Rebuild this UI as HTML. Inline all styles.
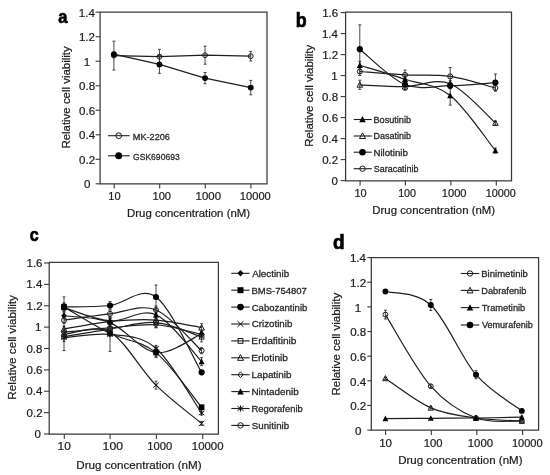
<!DOCTYPE html>
<html><head><meta charset="utf-8"><style>
html,body{margin:0;padding:0;background:#fff;width:550px;height:475px;overflow:hidden}
svg{display:block;will-change:transform}
text{font-family:"Liberation Sans",sans-serif}
.t{stroke:#1c1c1c;stroke-width:0.22px}
</style></head><body>
<svg width="550" height="475" viewBox="0 0 550 475">
<path d="M100.10 12.10 H267.00 V183.80 H100.10 Z" fill="none" stroke="#3a3a3a" stroke-width="1.25"/>
<line x1="95.60" y1="183.80" x2="100.10" y2="183.80" stroke="#3a3a3a" stroke-width="1.1"/>
<text x="83.88" y="188.16" font-size="11.60" textLength="6.45" lengthAdjust="spacingAndGlyphs" fill="#1c1c1c" class="t">0</text>
<line x1="95.60" y1="159.29" x2="100.10" y2="159.29" stroke="#3a3a3a" stroke-width="1.1"/>
<text x="79.10" y="163.65" font-size="11.60" textLength="16.13" lengthAdjust="spacingAndGlyphs" fill="#1c1c1c" class="t">0.2</text>
<line x1="95.60" y1="134.77" x2="100.10" y2="134.77" stroke="#3a3a3a" stroke-width="1.1"/>
<text x="78.98" y="139.13" font-size="11.60" textLength="16.13" lengthAdjust="spacingAndGlyphs" fill="#1c1c1c" class="t">0.4</text>
<line x1="95.60" y1="110.26" x2="100.10" y2="110.26" stroke="#3a3a3a" stroke-width="1.1"/>
<text x="79.07" y="114.62" font-size="11.60" textLength="16.13" lengthAdjust="spacingAndGlyphs" fill="#1c1c1c" class="t">0.6</text>
<line x1="95.60" y1="85.74" x2="100.10" y2="85.74" stroke="#3a3a3a" stroke-width="1.1"/>
<text x="79.04" y="90.10" font-size="11.60" textLength="16.13" lengthAdjust="spacingAndGlyphs" fill="#1c1c1c" class="t">0.8</text>
<line x1="95.60" y1="61.23" x2="100.10" y2="61.23" stroke="#3a3a3a" stroke-width="1.1"/>
<text x="83.74" y="65.53" font-size="11.60" textLength="6.45" lengthAdjust="spacingAndGlyphs" fill="#1c1c1c" class="t">1</text>
<line x1="95.60" y1="36.71" x2="100.10" y2="36.71" stroke="#3a3a3a" stroke-width="1.1"/>
<text x="78.89" y="41.07" font-size="11.60" textLength="16.13" lengthAdjust="spacingAndGlyphs" fill="#1c1c1c" class="t">1.2</text>
<line x1="95.60" y1="12.20" x2="100.10" y2="12.20" stroke="#3a3a3a" stroke-width="1.1"/>
<text x="78.78" y="16.50" font-size="11.60" textLength="16.13" lengthAdjust="spacingAndGlyphs" fill="#1c1c1c" class="t">1.4</text>
<line x1="114.20" y1="183.80" x2="114.20" y2="188.50" stroke="#3a3a3a" stroke-width="1.1"/>
<text x="108.27" y="200.10" font-size="11.60" textLength="12.30" lengthAdjust="spacingAndGlyphs" fill="#1c1c1c" class="t">10</text>
<line x1="159.70" y1="183.80" x2="159.70" y2="188.50" stroke="#3a3a3a" stroke-width="1.1"/>
<text x="152.47" y="200.10" font-size="11.60" textLength="18.52" lengthAdjust="spacingAndGlyphs" fill="#1c1c1c" class="t">100</text>
<line x1="205.30" y1="183.80" x2="205.30" y2="188.50" stroke="#3a3a3a" stroke-width="1.1"/>
<text x="195.59" y="200.10" font-size="11.60" textLength="25.41" lengthAdjust="spacingAndGlyphs" fill="#1c1c1c" class="t">1000</text>
<line x1="250.90" y1="183.80" x2="250.90" y2="188.50" stroke="#3a3a3a" stroke-width="1.1"/>
<text x="239.87" y="200.10" font-size="11.60" textLength="30.89" lengthAdjust="spacingAndGlyphs" fill="#1c1c1c" class="t">10000</text>
<text x="126.99" y="217.10" font-size="11.20" textLength="123.13" lengthAdjust="spacingAndGlyphs" fill="#1c1c1c" class="t">Drug concentration (nM)</text>
<text class="t" x="0" y="0" transform="translate(69.80 148.62) rotate(-90)" font-size="11.20" textLength="102.35" lengthAdjust="spacingAndGlyphs" fill="#1c1c1c">Relative cell viability</text>
<text x="58.36" y="23.05" font-size="18.80" font-weight="bold" textLength="9.15" lengthAdjust="spacingAndGlyphs" fill="#000" stroke="#000" stroke-width="0.70" stroke-linejoin="round">a</text>
<path d="M113.90 55.60 L159.45 56.70 L205.05 55.20 L250.75 56.20" fill="none" stroke="#1e1e1e" stroke-width="1.20"/>
<path d="M113.90 54.20 L159.45 64.40 L205.05 78.10 L250.75 87.60" fill="none" stroke="#1e1e1e" stroke-width="1.20"/>
<path d="M113.90 41.15 V70.05 M112.40 41.15 H115.40 M112.40 70.05 H115.40" stroke="#333" stroke-width="0.9" fill="none"/>
<path d="M159.45 49.30 V64.10 M157.95 49.30 H160.95 M157.95 64.10 H160.95" stroke="#333" stroke-width="0.9" fill="none"/>
<path d="M205.05 46.20 V64.20 M203.55 46.20 H206.55 M203.55 64.20 H206.55" stroke="#333" stroke-width="0.9" fill="none"/>
<path d="M250.75 51.40 V61.00 M249.25 51.40 H252.25 M249.25 61.00 H252.25" stroke="#333" stroke-width="0.9" fill="none"/>
<path d="M159.45 55.50 V73.30 M157.95 55.50 H160.95 M157.95 73.30 H160.95" stroke="#333" stroke-width="0.9" fill="none"/>
<path d="M205.05 72.50 V83.70 M203.55 72.50 H206.55 M203.55 83.70 H206.55" stroke="#333" stroke-width="0.9" fill="none"/>
<path d="M250.75 80.40 V94.80 M249.25 80.40 H252.25 M249.25 94.80 H252.25" stroke="#333" stroke-width="0.9" fill="none"/>
<circle cx="113.90" cy="55.60" r="2.43" fill="none" stroke="#1a1a1a" stroke-width="1.00"/>
<circle cx="159.45" cy="56.70" r="2.43" fill="none" stroke="#1a1a1a" stroke-width="1.00"/>
<circle cx="205.05" cy="55.20" r="2.43" fill="none" stroke="#1a1a1a" stroke-width="1.00"/>
<circle cx="250.75" cy="56.20" r="2.43" fill="none" stroke="#1a1a1a" stroke-width="1.00"/>
<circle cx="113.90" cy="54.20" r="2.97" fill="#000"/>
<circle cx="159.45" cy="64.40" r="2.97" fill="#000"/>
<circle cx="205.05" cy="78.10" r="2.97" fill="#000"/>
<circle cx="250.75" cy="87.60" r="2.97" fill="#000"/>
<line x1="108.10" y1="135.70" x2="129.70" y2="135.70" stroke="#1e1e1e" stroke-width="1.1"/>
<circle cx="118.70" cy="135.70" r="2.88" fill="none" stroke="#1a1a1a" stroke-width="1.00"/>
<text x="132.77" y="139.70" font-size="9.10" textLength="37.17" lengthAdjust="spacingAndGlyphs" fill="#2a2a2a" stroke="#2a2a2a" stroke-width="0.30">MK-2206</text>
<line x1="108.10" y1="155.80" x2="129.70" y2="155.80" stroke="#1e1e1e" stroke-width="1.1"/>
<circle cx="118.70" cy="155.80" r="3.52" fill="#000"/>
<text x="133.07" y="159.80" font-size="9.10" textLength="46.60" lengthAdjust="spacingAndGlyphs" fill="#2a2a2a" stroke="#2a2a2a" stroke-width="0.30">GSK690693</text>
<path d="M345.60 12.20 H511.50 V180.80 H345.60 Z" fill="none" stroke="#3a3a3a" stroke-width="1.25"/>
<line x1="340.70" y1="180.60" x2="345.60" y2="180.60" stroke="#3a3a3a" stroke-width="1.1"/>
<text x="331.38" y="184.62" font-size="11.50" textLength="6.40" lengthAdjust="spacingAndGlyphs" fill="#1c1c1c" class="t">0</text>
<line x1="340.70" y1="159.60" x2="345.60" y2="159.60" stroke="#3a3a3a" stroke-width="1.1"/>
<text x="322.19" y="163.62" font-size="11.50" textLength="15.99" lengthAdjust="spacingAndGlyphs" fill="#1c1c1c" class="t">0.2</text>
<line x1="340.70" y1="138.60" x2="345.60" y2="138.60" stroke="#3a3a3a" stroke-width="1.1"/>
<text x="321.96" y="142.62" font-size="11.50" textLength="15.99" lengthAdjust="spacingAndGlyphs" fill="#1c1c1c" class="t">0.4</text>
<line x1="340.70" y1="117.60" x2="345.60" y2="117.60" stroke="#3a3a3a" stroke-width="1.1"/>
<text x="322.13" y="121.62" font-size="11.50" textLength="15.99" lengthAdjust="spacingAndGlyphs" fill="#1c1c1c" class="t">0.6</text>
<line x1="340.70" y1="96.60" x2="345.60" y2="96.60" stroke="#3a3a3a" stroke-width="1.1"/>
<text x="322.08" y="100.62" font-size="11.50" textLength="15.99" lengthAdjust="spacingAndGlyphs" fill="#1c1c1c" class="t">0.8</text>
<line x1="340.70" y1="75.60" x2="345.60" y2="75.60" stroke="#3a3a3a" stroke-width="1.1"/>
<text x="331.19" y="79.57" font-size="11.50" textLength="6.40" lengthAdjust="spacingAndGlyphs" fill="#1c1c1c" class="t">1</text>
<line x1="340.70" y1="54.60" x2="345.60" y2="54.60" stroke="#3a3a3a" stroke-width="1.1"/>
<text x="322.19" y="58.62" font-size="11.50" textLength="15.99" lengthAdjust="spacingAndGlyphs" fill="#1c1c1c" class="t">1.2</text>
<line x1="340.70" y1="33.60" x2="345.60" y2="33.60" stroke="#3a3a3a" stroke-width="1.1"/>
<text x="321.96" y="37.57" font-size="11.50" textLength="15.99" lengthAdjust="spacingAndGlyphs" fill="#1c1c1c" class="t">1.4</text>
<line x1="340.70" y1="12.60" x2="345.60" y2="12.60" stroke="#3a3a3a" stroke-width="1.1"/>
<text x="322.13" y="16.62" font-size="11.50" textLength="15.99" lengthAdjust="spacingAndGlyphs" fill="#1c1c1c" class="t">1.6</text>
<line x1="360.10" y1="180.80" x2="360.10" y2="185.50" stroke="#3a3a3a" stroke-width="1.1"/>
<text x="354.48" y="197.10" font-size="11.50" textLength="12.19" lengthAdjust="spacingAndGlyphs" fill="#1c1c1c" class="t">10</text>
<line x1="405.40" y1="180.80" x2="405.40" y2="185.50" stroke="#3a3a3a" stroke-width="1.1"/>
<text x="398.14" y="197.10" font-size="11.50" textLength="17.98" lengthAdjust="spacingAndGlyphs" fill="#1c1c1c" class="t">100</text>
<line x1="450.90" y1="180.80" x2="450.90" y2="185.50" stroke="#3a3a3a" stroke-width="1.1"/>
<text x="441.81" y="197.10" font-size="11.50" textLength="24.78" lengthAdjust="spacingAndGlyphs" fill="#1c1c1c" class="t">1000</text>
<line x1="496.30" y1="180.80" x2="496.30" y2="185.50" stroke="#3a3a3a" stroke-width="1.1"/>
<text x="485.74" y="197.10" font-size="11.50" textLength="30.16" lengthAdjust="spacingAndGlyphs" fill="#1c1c1c" class="t">10000</text>
<text x="372.29" y="214.30" font-size="11.20" textLength="122.82" lengthAdjust="spacingAndGlyphs" fill="#1c1c1c" class="t">Drug concentration (nM)</text>
<text class="t" x="0" y="0" transform="translate(313.00 146.71) rotate(-90)" font-size="11.20" textLength="101.95" lengthAdjust="spacingAndGlyphs" fill="#1c1c1c">Relative cell viability</text>
<text x="295.79" y="26.65" font-size="19.30" font-weight="bold" textLength="10.89" lengthAdjust="spacingAndGlyphs" fill="#000" stroke="#000" stroke-width="0.70" stroke-linejoin="round">b</text>
<path d="M359.80 65.30 C367.33 67.63 389.93 74.27 405.00 79.30 C420.07 84.33 435.13 83.62 450.20 95.50 C465.27 107.38 487.87 141.42 495.40 150.60" fill="none" stroke="#1e1e1e" stroke-width="1.20"/>
<path d="M359.80 84.80 C367.33 85.12 389.93 86.88 405.00 86.70 C420.07 86.52 435.13 77.65 450.20 83.70 C465.27 89.75 487.87 116.45 495.40 123.00" fill="none" stroke="#1e1e1e" stroke-width="1.20"/>
<path d="M359.80 49.20 C367.33 55.08 389.93 78.42 405.00 84.50 C420.07 90.58 435.13 86.02 450.20 85.70 C465.27 85.38 487.87 83.12 495.40 82.60" fill="none" stroke="#1e1e1e" stroke-width="1.20"/>
<path d="M359.80 71.50 C367.33 72.07 389.93 74.08 405.00 74.90 C420.07 75.72 435.13 74.22 450.20 76.40 C465.27 78.58 487.87 86.07 495.40 88.00" fill="none" stroke="#1e1e1e" stroke-width="1.20"/>
<path d="M359.80 61.30 V69.30 M358.30 61.30 H361.30 M358.30 69.30 H361.30" stroke="#333" stroke-width="0.9" fill="none"/>
<path d="M405.00 76.30 V82.30 M403.50 76.30 H406.50 M403.50 82.30 H406.50" stroke="#333" stroke-width="0.9" fill="none"/>
<path d="M450.20 85.90 V105.10 M448.70 85.90 H451.70 M448.70 105.10 H451.70" stroke="#333" stroke-width="0.9" fill="none"/>
<path d="M495.40 148.10 V153.10 M493.90 148.10 H496.90 M493.90 153.10 H496.90" stroke="#333" stroke-width="0.9" fill="none"/>
<path d="M359.80 80.20 V89.40 M358.30 80.20 H361.30 M358.30 89.40 H361.30" stroke="#333" stroke-width="0.9" fill="none"/>
<path d="M405.00 83.30 V90.10 M403.50 83.30 H406.50 M403.50 90.10 H406.50" stroke="#333" stroke-width="0.9" fill="none"/>
<path d="M450.20 80.70 V86.70 M448.70 80.70 H451.70 M448.70 86.70 H451.70" stroke="#333" stroke-width="0.9" fill="none"/>
<path d="M495.40 121.00 V125.00 M493.90 121.00 H496.90 M493.90 125.00 H496.90" stroke="#333" stroke-width="0.9" fill="none"/>
<path d="M359.80 24.90 V73.50 M358.30 24.90 H361.30 M358.30 73.50 H361.30" stroke="#333" stroke-width="0.9" fill="none"/>
<path d="M405.00 79.00 V90.00 M403.50 79.00 H406.50 M403.50 90.00 H406.50" stroke="#333" stroke-width="0.9" fill="none"/>
<path d="M450.20 82.70 V88.70 M448.70 82.70 H451.70 M448.70 88.70 H451.70" stroke="#333" stroke-width="0.9" fill="none"/>
<path d="M495.40 74.00 V91.20 M493.90 74.00 H496.90 M493.90 91.20 H496.90" stroke="#333" stroke-width="0.9" fill="none"/>
<path d="M359.80 67.50 V75.50 M358.30 67.50 H361.30 M358.30 75.50 H361.30" stroke="#333" stroke-width="0.9" fill="none"/>
<path d="M405.00 70.00 V79.80 M403.50 70.00 H406.50 M403.50 79.80 H406.50" stroke="#333" stroke-width="0.9" fill="none"/>
<path d="M450.20 67.50 V85.30 M448.70 67.50 H451.70 M448.70 85.30 H451.70" stroke="#333" stroke-width="0.9" fill="none"/>
<path d="M495.40 85.50 V90.50 M493.90 85.50 H496.90 M493.90 90.50 H496.90" stroke="#333" stroke-width="0.9" fill="none"/>
<path d="M359.80 62.08 L362.82 67.96 L356.78 67.96 Z" fill="#000"/>
<path d="M405.00 76.08 L408.02 81.96 L401.98 81.96 Z" fill="#000"/>
<path d="M450.20 92.28 L453.22 98.16 L447.18 98.16 Z" fill="#000"/>
<path d="M495.40 147.38 L498.42 153.26 L492.38 153.26 Z" fill="#000"/>
<path d="M359.80 81.86 L362.60 87.18 L357.00 87.18 Z" fill="none" stroke="#1a1a1a" stroke-width="1.00"/>
<path d="M405.00 83.76 L407.80 89.08 L402.20 89.08 Z" fill="none" stroke="#1a1a1a" stroke-width="1.00"/>
<path d="M450.20 80.76 L453.00 86.08 L447.40 86.08 Z" fill="none" stroke="#1a1a1a" stroke-width="1.00"/>
<path d="M495.40 120.06 L498.20 125.38 L492.60 125.38 Z" fill="none" stroke="#1a1a1a" stroke-width="1.00"/>
<circle cx="359.80" cy="49.20" r="3.08" fill="#000"/>
<circle cx="405.00" cy="84.50" r="3.08" fill="#000"/>
<circle cx="450.20" cy="85.70" r="3.08" fill="#000"/>
<circle cx="495.40" cy="82.60" r="3.08" fill="#000"/>
<circle cx="359.80" cy="71.50" r="2.52" fill="none" stroke="#1a1a1a" stroke-width="1.00"/>
<circle cx="405.00" cy="74.90" r="2.52" fill="none" stroke="#1a1a1a" stroke-width="1.00"/>
<circle cx="450.20" cy="76.40" r="2.52" fill="none" stroke="#1a1a1a" stroke-width="1.00"/>
<circle cx="495.40" cy="88.00" r="2.52" fill="none" stroke="#1a1a1a" stroke-width="1.00"/>
<line x1="353.70" y1="119.50" x2="371.80" y2="119.50" stroke="#1e1e1e" stroke-width="1.1"/>
<path d="M362.50 116.05 L365.74 122.35 L359.26 122.35 Z" fill="#000"/>
<text x="373.47" y="122.90" font-size="9.10" textLength="37.59" lengthAdjust="spacingAndGlyphs" fill="#2a2a2a" stroke="#2a2a2a" stroke-width="0.30">Bosutinib</text>
<line x1="353.70" y1="136.00" x2="371.80" y2="136.00" stroke="#1e1e1e" stroke-width="1.1"/>
<path d="M362.50 132.85 L365.50 138.55 L359.50 138.55 Z" fill="none" stroke="#1a1a1a" stroke-width="1.00"/>
<text x="373.48" y="139.40" font-size="9.10" textLength="37.57" lengthAdjust="spacingAndGlyphs" fill="#2a2a2a" stroke="#2a2a2a" stroke-width="0.30">Dasatinib</text>
<line x1="353.70" y1="152.20" x2="371.80" y2="152.20" stroke="#1e1e1e" stroke-width="1.1"/>
<circle cx="362.50" cy="152.20" r="3.30" fill="#000"/>
<text x="373.42" y="155.60" font-size="9.10" textLength="34.49" lengthAdjust="spacingAndGlyphs" fill="#2a2a2a" stroke="#2a2a2a" stroke-width="0.30">Nilotinib</text>
<line x1="353.70" y1="168.70" x2="371.80" y2="168.70" stroke="#1e1e1e" stroke-width="1.1"/>
<circle cx="362.50" cy="168.70" r="2.70" fill="none" stroke="#1a1a1a" stroke-width="1.00"/>
<text x="373.80" y="172.10" font-size="9.10" textLength="44.69" lengthAdjust="spacingAndGlyphs" fill="#2a2a2a" stroke="#2a2a2a" stroke-width="0.30">Saracatinib</text>
<path d="M49.20 262.40 H218.40 V434.00 H49.20 Z" fill="none" stroke="#3a3a3a" stroke-width="1.25"/>
<line x1="44.00" y1="434.00" x2="49.20" y2="434.00" stroke="#3a3a3a" stroke-width="1.1"/>
<text x="34.38" y="438.02" font-size="11.50" textLength="6.40" lengthAdjust="spacingAndGlyphs" fill="#1c1c1c" class="t">0</text>
<line x1="44.00" y1="412.62" x2="49.20" y2="412.62" stroke="#3a3a3a" stroke-width="1.1"/>
<text x="26.59" y="416.65" font-size="11.50" textLength="15.99" lengthAdjust="spacingAndGlyphs" fill="#1c1c1c" class="t">0.2</text>
<line x1="44.00" y1="391.25" x2="49.20" y2="391.25" stroke="#3a3a3a" stroke-width="1.1"/>
<text x="26.36" y="395.27" font-size="11.50" textLength="15.99" lengthAdjust="spacingAndGlyphs" fill="#1c1c1c" class="t">0.4</text>
<line x1="44.00" y1="369.88" x2="49.20" y2="369.88" stroke="#3a3a3a" stroke-width="1.1"/>
<text x="26.53" y="373.90" font-size="11.50" textLength="15.99" lengthAdjust="spacingAndGlyphs" fill="#1c1c1c" class="t">0.6</text>
<line x1="44.00" y1="348.50" x2="49.20" y2="348.50" stroke="#3a3a3a" stroke-width="1.1"/>
<text x="26.47" y="352.52" font-size="11.50" textLength="15.99" lengthAdjust="spacingAndGlyphs" fill="#1c1c1c" class="t">0.8</text>
<line x1="44.00" y1="327.12" x2="49.20" y2="327.12" stroke="#3a3a3a" stroke-width="1.1"/>
<text x="34.99" y="331.09" font-size="11.50" textLength="6.40" lengthAdjust="spacingAndGlyphs" fill="#1c1c1c" class="t">1</text>
<line x1="44.00" y1="305.75" x2="49.20" y2="305.75" stroke="#3a3a3a" stroke-width="1.1"/>
<text x="26.59" y="309.77" font-size="11.50" textLength="15.99" lengthAdjust="spacingAndGlyphs" fill="#1c1c1c" class="t">1.2</text>
<line x1="44.00" y1="284.38" x2="49.20" y2="284.38" stroke="#3a3a3a" stroke-width="1.1"/>
<text x="26.36" y="288.34" font-size="11.50" textLength="15.99" lengthAdjust="spacingAndGlyphs" fill="#1c1c1c" class="t">1.4</text>
<line x1="44.00" y1="263.00" x2="49.20" y2="263.00" stroke="#3a3a3a" stroke-width="1.1"/>
<text x="26.53" y="267.02" font-size="11.50" textLength="15.99" lengthAdjust="spacingAndGlyphs" fill="#1c1c1c" class="t">1.6</text>
<line x1="64.30" y1="434.00" x2="64.30" y2="439.00" stroke="#3a3a3a" stroke-width="1.1"/>
<text x="57.50" y="450.40" font-size="11.50" textLength="13.30" lengthAdjust="spacingAndGlyphs" fill="#1c1c1c" class="t">10</text>
<line x1="110.10" y1="434.00" x2="110.10" y2="439.00" stroke="#3a3a3a" stroke-width="1.1"/>
<text x="102.64" y="450.40" font-size="11.50" textLength="20.35" lengthAdjust="spacingAndGlyphs" fill="#1c1c1c" class="t">100</text>
<line x1="156.40" y1="434.00" x2="156.40" y2="439.00" stroke="#3a3a3a" stroke-width="1.1"/>
<text x="147.31" y="450.40" font-size="11.50" textLength="24.99" lengthAdjust="spacingAndGlyphs" fill="#1c1c1c" class="t">1000</text>
<line x1="202.70" y1="434.00" x2="202.70" y2="439.00" stroke="#3a3a3a" stroke-width="1.1"/>
<text x="191.84" y="450.40" font-size="11.50" textLength="31.72" lengthAdjust="spacingAndGlyphs" fill="#1c1c1c" class="t">10000</text>
<text x="76.37" y="468.50" font-size="11.40" textLength="125.26" lengthAdjust="spacingAndGlyphs" fill="#1c1c1c" class="t">Drug concentration (nM)</text>
<text class="t" x="0" y="0" transform="translate(16.20 399.63) rotate(-90)" font-size="11.40" textLength="104.57" lengthAdjust="spacingAndGlyphs" fill="#1c1c1c">Relative cell viability</text>
<text x="29.71" y="240.85" font-size="18.60" font-weight="bold" textLength="8.94" lengthAdjust="spacingAndGlyphs" fill="#000" stroke="#000" stroke-width="0.70" stroke-linejoin="round">c</text>
<path d="M64.00 315.76 C71.67 316.90 94.67 316.48 110.00 322.62 C125.33 328.76 140.73 350.75 156.00 352.60 C171.27 354.46 194.00 336.90 201.60 333.75" fill="none" stroke="#1e1e1e" stroke-width="1.20"/>
<path d="M64.00 306.87 C71.67 311.28 94.67 325.70 110.00 333.33 C125.33 340.95 140.73 340.29 156.00 352.60 C171.27 364.92 194.00 398.12 201.60 407.23" fill="none" stroke="#1e1e1e" stroke-width="1.20"/>
<path d="M64.00 306.87 C71.67 306.64 94.67 307.12 110.00 305.48 C125.33 303.84 140.73 285.88 156.00 297.02 C171.27 308.16 194.00 359.76 201.60 372.31" fill="none" stroke="#1e1e1e" stroke-width="1.20"/>
<path d="M64.00 334.40 C71.67 334.04 94.67 323.79 110.00 332.25 C125.33 340.72 140.73 369.97 156.00 385.16 C171.27 400.35 194.00 417.02 201.60 423.40" fill="none" stroke="#1e1e1e" stroke-width="1.20"/>
<path d="M64.00 336.54 C71.67 335.29 94.67 331.36 110.00 329.04 C125.33 326.72 140.73 321.31 156.00 322.62 C171.27 323.92 194.00 334.49 201.60 336.86" fill="none" stroke="#1e1e1e" stroke-width="1.20"/>
<path d="M64.00 329.04 C71.67 327.79 94.67 323.04 110.00 321.55 C125.33 320.05 140.73 319.03 156.00 320.05 C171.27 321.06 194.00 326.38 201.60 327.65" fill="none" stroke="#1e1e1e" stroke-width="1.20"/>
<path d="M64.00 332.25 C71.67 331.54 94.67 329.22 110.00 327.97 C125.33 326.72 140.73 323.69 156.00 324.76 C171.27 325.83 194.00 332.79 201.60 334.40" fill="none" stroke="#1e1e1e" stroke-width="1.20"/>
<path d="M64.00 307.62 C71.67 309.84 94.67 319.71 110.00 320.90 C125.33 322.10 140.73 308.01 156.00 314.80 C171.27 321.58 194.00 353.80 201.60 361.60" fill="none" stroke="#1e1e1e" stroke-width="1.20"/>
<path d="M64.00 337.61 C71.67 337.07 94.67 332.61 110.00 334.40 C125.33 336.18 140.73 335.22 156.00 348.32 C171.27 361.42 194.00 402.23 201.60 413.01" fill="none" stroke="#1e1e1e" stroke-width="1.20"/>
<path d="M64.00 320.15 C71.67 319.10 94.67 315.53 110.00 313.83 C125.33 312.14 140.73 303.84 156.00 309.98 C171.27 316.12 194.00 343.89 201.60 350.68" fill="none" stroke="#1e1e1e" stroke-width="1.20"/>
<path d="M64.00 312.76 V318.76 M62.50 312.76 H65.50 M62.50 318.76 H65.50" stroke="#333" stroke-width="0.9" fill="none"/>
<path d="M110.00 319.62 V325.62 M108.50 319.62 H111.50 M108.50 325.62 H111.50" stroke="#333" stroke-width="0.9" fill="none"/>
<path d="M156.00 348.60 V356.60 M154.50 348.60 H157.50 M154.50 356.60 H157.50" stroke="#333" stroke-width="0.9" fill="none"/>
<path d="M201.60 330.75 V336.75 M200.10 330.75 H203.10 M200.10 336.75 H203.10" stroke="#333" stroke-width="0.9" fill="none"/>
<path d="M64.00 302.87 V310.87 M62.50 302.87 H65.50 M62.50 310.87 H65.50" stroke="#333" stroke-width="0.9" fill="none"/>
<path d="M110.00 330.33 V336.33 M108.50 330.33 H111.50 M108.50 336.33 H111.50" stroke="#333" stroke-width="0.9" fill="none"/>
<path d="M156.00 347.60 V357.60 M154.50 347.60 H157.50 M154.50 357.60 H157.50" stroke="#333" stroke-width="0.9" fill="none"/>
<path d="M201.60 405.23 V409.23 M200.10 405.23 H203.10 M200.10 409.23 H203.10" stroke="#333" stroke-width="0.9" fill="none"/>
<path d="M64.00 296.87 V316.87 M62.50 296.87 H65.50 M62.50 316.87 H65.50" stroke="#333" stroke-width="0.9" fill="none"/>
<path d="M110.00 301.48 V309.48 M108.50 301.48 H111.50 M108.50 309.48 H111.50" stroke="#333" stroke-width="0.9" fill="none"/>
<path d="M156.00 285.02 V309.02 M154.50 285.02 H157.50 M154.50 309.02 H157.50" stroke="#333" stroke-width="0.9" fill="none"/>
<path d="M201.60 370.31 V374.31 M200.10 370.31 H203.10 M200.10 374.31 H203.10" stroke="#333" stroke-width="0.9" fill="none"/>
<path d="M64.00 331.40 V337.40 M62.50 331.40 H65.50 M62.50 337.40 H65.50" stroke="#333" stroke-width="0.9" fill="none"/>
<path d="M110.00 329.25 V335.25 M108.50 329.25 H111.50 M108.50 335.25 H111.50" stroke="#333" stroke-width="0.9" fill="none"/>
<path d="M156.00 381.16 V389.16 M154.50 381.16 H157.50 M154.50 389.16 H157.50" stroke="#333" stroke-width="0.9" fill="none"/>
<path d="M201.60 421.40 V425.40 M200.10 421.40 H203.10 M200.10 425.40 H203.10" stroke="#333" stroke-width="0.9" fill="none"/>
<path d="M64.00 322.54 V350.54 M62.50 322.54 H65.50 M62.50 350.54 H65.50" stroke="#333" stroke-width="0.9" fill="none"/>
<path d="M110.00 325.04 V333.04 M108.50 325.04 H111.50 M108.50 333.04 H111.50" stroke="#333" stroke-width="0.9" fill="none"/>
<path d="M156.00 317.62 V327.62 M154.50 317.62 H157.50 M154.50 327.62 H157.50" stroke="#333" stroke-width="0.9" fill="none"/>
<path d="M201.60 331.86 V341.86 M200.10 331.86 H203.10 M200.10 341.86 H203.10" stroke="#333" stroke-width="0.9" fill="none"/>
<path d="M64.00 326.04 V332.04 M62.50 326.04 H65.50 M62.50 332.04 H65.50" stroke="#333" stroke-width="0.9" fill="none"/>
<path d="M110.00 318.55 V324.55 M108.50 318.55 H111.50 M108.50 324.55 H111.50" stroke="#333" stroke-width="0.9" fill="none"/>
<path d="M156.00 316.05 V324.05 M154.50 316.05 H157.50 M154.50 324.05 H157.50" stroke="#333" stroke-width="0.9" fill="none"/>
<path d="M201.60 323.65 V331.65 M200.10 323.65 H203.10 M200.10 331.65 H203.10" stroke="#333" stroke-width="0.9" fill="none"/>
<path d="M64.00 329.25 V335.25 M62.50 329.25 H65.50 M62.50 335.25 H65.50" stroke="#333" stroke-width="0.9" fill="none"/>
<path d="M110.00 324.97 V330.97 M108.50 324.97 H111.50 M108.50 330.97 H111.50" stroke="#333" stroke-width="0.9" fill="none"/>
<path d="M156.00 321.76 V327.76 M154.50 321.76 H157.50 M154.50 327.76 H157.50" stroke="#333" stroke-width="0.9" fill="none"/>
<path d="M201.60 331.40 V337.40 M200.10 331.40 H203.10 M200.10 337.40 H203.10" stroke="#333" stroke-width="0.9" fill="none"/>
<path d="M64.00 303.62 V311.62 M62.50 303.62 H65.50 M62.50 311.62 H65.50" stroke="#333" stroke-width="0.9" fill="none"/>
<path d="M110.00 317.90 V323.90 M108.50 317.90 H111.50 M108.50 323.90 H111.50" stroke="#333" stroke-width="0.9" fill="none"/>
<path d="M156.00 310.80 V318.80 M154.50 310.80 H157.50 M154.50 318.80 H157.50" stroke="#333" stroke-width="0.9" fill="none"/>
<path d="M201.60 357.60 V365.60 M200.10 357.60 H203.10 M200.10 365.60 H203.10" stroke="#333" stroke-width="0.9" fill="none"/>
<path d="M64.00 333.61 V341.61 M62.50 333.61 H65.50 M62.50 341.61 H65.50" stroke="#333" stroke-width="0.9" fill="none"/>
<path d="M110.00 317.40 V351.40 M108.50 317.40 H111.50 M108.50 351.40 H111.50" stroke="#333" stroke-width="0.9" fill="none"/>
<path d="M156.00 345.32 V351.32 M154.50 345.32 H157.50 M154.50 351.32 H157.50" stroke="#333" stroke-width="0.9" fill="none"/>
<path d="M201.60 411.01 V415.01 M200.10 411.01 H203.10 M200.10 415.01 H203.10" stroke="#333" stroke-width="0.9" fill="none"/>
<path d="M64.00 317.15 V323.15 M62.50 317.15 H65.50 M62.50 323.15 H65.50" stroke="#333" stroke-width="0.9" fill="none"/>
<path d="M110.00 310.83 V316.83 M108.50 310.83 H111.50 M108.50 316.83 H111.50" stroke="#333" stroke-width="0.9" fill="none"/>
<path d="M156.00 305.98 V313.98 M154.50 305.98 H157.50 M154.50 313.98 H157.50" stroke="#333" stroke-width="0.9" fill="none"/>
<path d="M201.60 347.68 V353.68 M200.10 347.68 H203.10 M200.10 353.68 H203.10" stroke="#333" stroke-width="0.9" fill="none"/>
<path d="M64.00 312.68 L66.80 315.76 L64.00 318.84 L61.20 315.76 Z" fill="#000"/>
<path d="M110.00 319.54 L112.80 322.62 L110.00 325.70 L107.20 322.62 Z" fill="#000"/>
<path d="M156.00 349.52 L158.80 352.60 L156.00 355.68 L153.20 352.60 Z" fill="#000"/>
<path d="M201.60 330.67 L204.40 333.75 L201.60 336.83 L198.80 333.75 Z" fill="#000"/>
<rect x="61.20" y="304.07" width="5.60" height="5.60" fill="#000"/>
<rect x="107.20" y="330.53" width="5.60" height="5.60" fill="#000"/>
<rect x="153.20" y="349.80" width="5.60" height="5.60" fill="#000"/>
<rect x="198.80" y="404.43" width="5.60" height="5.60" fill="#000"/>
<circle cx="64.00" cy="306.87" r="3.08" fill="#000"/>
<circle cx="110.00" cy="305.48" r="3.08" fill="#000"/>
<circle cx="156.00" cy="297.02" r="3.08" fill="#000"/>
<circle cx="201.60" cy="372.31" r="3.08" fill="#000"/>
<path d="M61.20 331.74 L66.80 337.06 M61.20 337.06 L66.80 331.74" stroke="#111" stroke-width="1"/>
<path d="M107.20 329.59 L112.80 334.92 M107.20 334.92 L112.80 329.59" stroke="#111" stroke-width="1"/>
<path d="M153.20 382.50 L158.80 387.82 M153.20 387.82 L158.80 382.50" stroke="#111" stroke-width="1"/>
<path d="M198.80 420.74 L204.40 426.06 M198.80 426.06 L204.40 420.74" stroke="#111" stroke-width="1"/>
<rect x="61.76" y="334.30" width="4.48" height="4.48" fill="none" stroke="#1a1a1a" stroke-width="1.00"/>
<rect x="107.76" y="326.80" width="4.48" height="4.48" fill="none" stroke="#1a1a1a" stroke-width="1.00"/>
<rect x="153.76" y="320.38" width="4.48" height="4.48" fill="none" stroke="#1a1a1a" stroke-width="1.00"/>
<rect x="199.36" y="334.62" width="4.48" height="4.48" fill="none" stroke="#1a1a1a" stroke-width="1.00"/>
<path d="M64.00 326.10 L66.80 331.42 L61.20 331.42 Z" fill="none" stroke="#1a1a1a" stroke-width="1.00"/>
<path d="M110.00 318.61 L112.80 323.93 L107.20 323.93 Z" fill="none" stroke="#1a1a1a" stroke-width="1.00"/>
<path d="M156.00 317.11 L158.80 322.43 L153.20 322.43 Z" fill="none" stroke="#1a1a1a" stroke-width="1.00"/>
<path d="M201.60 324.71 L204.40 330.03 L198.80 330.03 Z" fill="none" stroke="#1a1a1a" stroke-width="1.00"/>
<path d="M64.00 329.59 L66.52 332.25 L64.00 334.92 L61.48 332.25 Z" fill="none" stroke="#1a1a1a" stroke-width="1.00"/>
<path d="M110.00 325.31 L112.52 327.97 L110.00 330.63 L107.48 327.97 Z" fill="none" stroke="#1a1a1a" stroke-width="1.00"/>
<path d="M156.00 322.10 L158.52 324.76 L156.00 327.42 L153.48 324.76 Z" fill="none" stroke="#1a1a1a" stroke-width="1.00"/>
<path d="M201.60 331.74 L204.12 334.40 L201.60 337.06 L199.08 334.40 Z" fill="none" stroke="#1a1a1a" stroke-width="1.00"/>
<path d="M64.00 304.40 L67.02 310.28 L60.98 310.28 Z" fill="#000"/>
<path d="M110.00 317.68 L113.02 323.56 L106.98 323.56 Z" fill="#000"/>
<path d="M156.00 311.58 L159.02 317.46 L152.98 317.46 Z" fill="#000"/>
<path d="M201.60 358.38 L204.62 364.26 L198.58 364.26 Z" fill="#000"/>
<path d="M61.20 335.51 L66.80 339.71 M61.20 339.71 L66.80 335.51 M64.00 334.81 L64.00 340.41" stroke="#111" stroke-width="1"/>
<path d="M107.20 332.30 L112.80 336.50 M107.20 336.50 L112.80 332.30 M110.00 331.60 L110.00 337.20" stroke="#111" stroke-width="1"/>
<path d="M153.20 346.22 L158.80 350.42 M153.20 350.42 L158.80 346.22 M156.00 345.52 L156.00 351.12" stroke="#111" stroke-width="1"/>
<path d="M198.80 410.91 L204.40 415.11 M198.80 415.11 L204.40 410.91 M201.60 410.21 L201.60 415.81" stroke="#111" stroke-width="1"/>
<circle cx="64.00" cy="320.15" r="2.52" fill="none" stroke="#1a1a1a" stroke-width="1.00"/>
<circle cx="110.00" cy="313.83" r="2.52" fill="none" stroke="#1a1a1a" stroke-width="1.00"/>
<circle cx="156.00" cy="309.98" r="2.52" fill="none" stroke="#1a1a1a" stroke-width="1.00"/>
<circle cx="201.60" cy="350.68" r="2.52" fill="none" stroke="#1a1a1a" stroke-width="1.00"/>
<line x1="231.30" y1="273.30" x2="249.60" y2="273.30" stroke="#1e1e1e" stroke-width="1.1"/>
<path d="M240.50 270.00 L243.50 273.30 L240.50 276.60 L237.50 273.30 Z" fill="#000"/>
<text x="252.15" y="276.70" font-size="9.60" textLength="37.04" lengthAdjust="spacingAndGlyphs" fill="#2a2a2a" stroke="#2a2a2a" stroke-width="0.30">Alectinib</text>
<line x1="231.30" y1="290.20" x2="249.60" y2="290.20" stroke="#1e1e1e" stroke-width="1.1"/>
<rect x="237.50" y="287.20" width="6.00" height="6.00" fill="#000"/>
<text x="251.44" y="293.60" font-size="9.60" textLength="55.46" lengthAdjust="spacingAndGlyphs" fill="#2a2a2a" stroke="#2a2a2a" stroke-width="0.30">BMS-754807</text>
<line x1="231.30" y1="307.10" x2="249.60" y2="307.10" stroke="#1e1e1e" stroke-width="1.1"/>
<circle cx="240.50" cy="307.10" r="3.30" fill="#000"/>
<text x="251.72" y="310.50" font-size="9.60" textLength="55.58" lengthAdjust="spacingAndGlyphs" fill="#2a2a2a" stroke="#2a2a2a" stroke-width="0.30">Cabozantinib</text>
<line x1="231.30" y1="324.00" x2="249.60" y2="324.00" stroke="#1e1e1e" stroke-width="1.1"/>
<path d="M237.50 321.15 L243.50 326.85 M237.50 326.85 L243.50 321.15" stroke="#111" stroke-width="1"/>
<text x="251.71" y="327.40" font-size="9.60" textLength="40.61" lengthAdjust="spacingAndGlyphs" fill="#2a2a2a" stroke="#2a2a2a" stroke-width="0.30">Crizotinib</text>
<line x1="231.30" y1="340.90" x2="249.60" y2="340.90" stroke="#1e1e1e" stroke-width="1.1"/>
<rect x="238.10" y="338.50" width="4.80" height="4.80" fill="none" stroke="#1a1a1a" stroke-width="1.00"/>
<text x="251.39" y="344.30" font-size="9.60" textLength="45.04" lengthAdjust="spacingAndGlyphs" fill="#2a2a2a" stroke="#2a2a2a" stroke-width="0.30">Erdafitinib</text>
<line x1="231.30" y1="357.80" x2="249.60" y2="357.80" stroke="#1e1e1e" stroke-width="1.1"/>
<path d="M240.50 354.65 L243.50 360.35 L237.50 360.35 Z" fill="none" stroke="#1a1a1a" stroke-width="1.00"/>
<text x="251.39" y="361.20" font-size="9.60" textLength="36.54" lengthAdjust="spacingAndGlyphs" fill="#2a2a2a" stroke="#2a2a2a" stroke-width="0.30">Erlotinib</text>
<line x1="231.30" y1="374.70" x2="249.60" y2="374.70" stroke="#1e1e1e" stroke-width="1.1"/>
<path d="M240.50 371.85 L243.20 374.70 L240.50 377.55 L237.80 374.70 Z" fill="none" stroke="#1a1a1a" stroke-width="1.00"/>
<text x="251.41" y="378.10" font-size="9.60" textLength="40.08" lengthAdjust="spacingAndGlyphs" fill="#2a2a2a" stroke="#2a2a2a" stroke-width="0.30">Lapatinib</text>
<line x1="231.30" y1="391.60" x2="249.60" y2="391.60" stroke="#1e1e1e" stroke-width="1.1"/>
<path d="M240.50 388.15 L243.74 394.45 L237.26 394.45 Z" fill="#000"/>
<text x="251.41" y="395.00" font-size="9.60" textLength="47.40" lengthAdjust="spacingAndGlyphs" fill="#2a2a2a" stroke="#2a2a2a" stroke-width="0.30">Nintadenib</text>
<line x1="231.30" y1="408.50" x2="249.60" y2="408.50" stroke="#1e1e1e" stroke-width="1.1"/>
<path d="M237.50 406.25 L243.50 410.75 M237.50 410.75 L243.50 406.25 M240.50 405.50 L240.50 411.50" stroke="#111" stroke-width="1"/>
<text x="251.45" y="411.90" font-size="9.60" textLength="51.36" lengthAdjust="spacingAndGlyphs" fill="#2a2a2a" stroke="#2a2a2a" stroke-width="0.30">Regorafenib</text>
<line x1="231.30" y1="425.40" x2="249.60" y2="425.40" stroke="#1e1e1e" stroke-width="1.1"/>
<circle cx="240.50" cy="425.40" r="2.70" fill="none" stroke="#1a1a1a" stroke-width="1.00"/>
<text x="251.76" y="428.80" font-size="9.60" textLength="37.44" lengthAdjust="spacingAndGlyphs" fill="#2a2a2a" stroke="#2a2a2a" stroke-width="0.30">Sunitinib</text>
<path d="M371.30 257.60 H538.60 V430.10 H371.30 Z" fill="none" stroke="#3a3a3a" stroke-width="1.25"/>
<line x1="367.30" y1="430.10" x2="371.30" y2="430.10" stroke="#3a3a3a" stroke-width="1.1"/>
<text x="354.98" y="434.96" font-size="11.60" textLength="6.45" lengthAdjust="spacingAndGlyphs" fill="#1c1c1c" class="t">0</text>
<line x1="367.30" y1="405.46" x2="371.30" y2="405.46" stroke="#3a3a3a" stroke-width="1.1"/>
<text x="350.20" y="410.32" font-size="11.60" textLength="16.13" lengthAdjust="spacingAndGlyphs" fill="#1c1c1c" class="t">0.2</text>
<line x1="367.30" y1="380.81" x2="371.30" y2="380.81" stroke="#3a3a3a" stroke-width="1.1"/>
<text x="350.08" y="385.67" font-size="11.60" textLength="16.13" lengthAdjust="spacingAndGlyphs" fill="#1c1c1c" class="t">0.4</text>
<line x1="367.30" y1="356.17" x2="371.30" y2="356.17" stroke="#3a3a3a" stroke-width="1.1"/>
<text x="350.17" y="361.03" font-size="11.60" textLength="16.13" lengthAdjust="spacingAndGlyphs" fill="#1c1c1c" class="t">0.6</text>
<line x1="367.30" y1="331.53" x2="371.30" y2="331.53" stroke="#3a3a3a" stroke-width="1.1"/>
<text x="350.14" y="336.39" font-size="11.60" textLength="16.13" lengthAdjust="spacingAndGlyphs" fill="#1c1c1c" class="t">0.8</text>
<line x1="367.30" y1="306.89" x2="371.30" y2="306.89" stroke="#3a3a3a" stroke-width="1.1"/>
<text x="354.84" y="311.69" font-size="11.60" textLength="6.45" lengthAdjust="spacingAndGlyphs" fill="#1c1c1c" class="t">1</text>
<line x1="367.30" y1="282.24" x2="371.30" y2="282.24" stroke="#3a3a3a" stroke-width="1.1"/>
<text x="349.99" y="287.10" font-size="11.60" textLength="16.13" lengthAdjust="spacingAndGlyphs" fill="#1c1c1c" class="t">1.2</text>
<line x1="367.30" y1="257.60" x2="371.30" y2="257.60" stroke="#3a3a3a" stroke-width="1.1"/>
<text x="349.88" y="262.40" font-size="11.60" textLength="16.13" lengthAdjust="spacingAndGlyphs" fill="#1c1c1c" class="t">1.4</text>
<line x1="385.60" y1="430.10" x2="385.60" y2="435.00" stroke="#3a3a3a" stroke-width="1.1"/>
<text x="379.13" y="446.50" font-size="11.60" textLength="12.86" lengthAdjust="spacingAndGlyphs" fill="#1c1c1c" class="t">10</text>
<line x1="431.30" y1="430.10" x2="431.30" y2="435.00" stroke="#3a3a3a" stroke-width="1.1"/>
<text x="423.66" y="446.50" font-size="11.60" textLength="18.73" lengthAdjust="spacingAndGlyphs" fill="#1c1c1c" class="t">100</text>
<line x1="476.80" y1="430.10" x2="476.80" y2="435.00" stroke="#3a3a3a" stroke-width="1.1"/>
<text x="467.75" y="446.50" font-size="11.60" textLength="25.30" lengthAdjust="spacingAndGlyphs" fill="#1c1c1c" class="t">1000</text>
<line x1="522.60" y1="430.10" x2="522.60" y2="435.00" stroke="#3a3a3a" stroke-width="1.1"/>
<text x="511.92" y="446.50" font-size="11.60" textLength="30.78" lengthAdjust="spacingAndGlyphs" fill="#1c1c1c" class="t">10000</text>
<text x="398.18" y="463.70" font-size="11.20" textLength="124.34" lengthAdjust="spacingAndGlyphs" fill="#1c1c1c" class="t">Drug concentration (nM)</text>
<text class="t" x="0" y="0" transform="translate(339.50 395.52) rotate(-90)" font-size="11.20" textLength="102.65" lengthAdjust="spacingAndGlyphs" fill="#1c1c1c">Relative cell viability</text>
<text x="332.99" y="248.55" font-size="19.30" font-weight="bold" textLength="11.61" lengthAdjust="spacingAndGlyphs" fill="#000" stroke="#000" stroke-width="0.70" stroke-linejoin="round">d</text>
<path d="M385.40 314.60 C392.97 326.53 415.70 368.97 430.80 386.20 C445.90 403.43 460.83 412.20 476.00 418.00 C491.17 423.80 514.17 420.50 521.80 421.00" fill="none" stroke="#1e1e1e" stroke-width="1.20"/>
<path d="M385.40 378.40 C392.97 383.32 415.70 401.30 430.80 407.90 C445.90 414.50 460.83 415.82 476.00 418.00 C491.17 420.18 514.17 420.50 521.80 421.00" fill="none" stroke="#1e1e1e" stroke-width="1.20"/>
<path d="M385.40 418.70 C392.97 418.63 415.70 418.42 430.80 418.30 C445.90 418.18 460.83 418.18 476.00 418.00 C491.17 417.82 514.17 417.33 521.80 417.20" fill="none" stroke="#1e1e1e" stroke-width="1.20"/>
<path d="M385.40 291.50 C392.97 293.75 415.70 291.13 430.80 305.00 C445.90 318.87 460.83 357.05 476.00 374.70 C491.17 392.35 514.17 404.87 521.80 410.90" fill="none" stroke="#1e1e1e" stroke-width="1.20"/>
<path d="M385.40 310.20 V319.00 M383.90 310.20 H386.90 M383.90 319.00 H386.90" stroke="#333" stroke-width="0.9" fill="none"/>
<path d="M430.80 384.70 V387.70 M429.30 384.70 H432.30 M429.30 387.70 H432.30" stroke="#333" stroke-width="0.9" fill="none"/>
<path d="M476.00 417.00 V419.00 M474.50 417.00 H477.50 M474.50 419.00 H477.50" stroke="#333" stroke-width="0.9" fill="none"/>
<path d="M521.80 420.00 V422.00 M520.30 420.00 H523.30 M520.30 422.00 H523.30" stroke="#333" stroke-width="0.9" fill="none"/>
<path d="M385.40 377.40 V379.40 M383.90 377.40 H386.90 M383.90 379.40 H386.90" stroke="#333" stroke-width="0.9" fill="none"/>
<path d="M430.80 406.90 V408.90 M429.30 406.90 H432.30 M429.30 408.90 H432.30" stroke="#333" stroke-width="0.9" fill="none"/>
<path d="M476.00 417.00 V419.00 M474.50 417.00 H477.50 M474.50 419.00 H477.50" stroke="#333" stroke-width="0.9" fill="none"/>
<path d="M521.80 420.00 V422.00 M520.30 420.00 H523.30 M520.30 422.00 H523.30" stroke="#333" stroke-width="0.9" fill="none"/>
<path d="M521.80 416.20 V418.20 M520.30 416.20 H523.30 M520.30 418.20 H523.30" stroke="#333" stroke-width="0.9" fill="none"/>
<path d="M430.80 299.50 V310.50 M429.30 299.50 H432.30 M429.30 310.50 H432.30" stroke="#333" stroke-width="0.9" fill="none"/>
<path d="M476.00 370.70 V378.70 M474.50 370.70 H477.50 M474.50 378.70 H477.50" stroke="#333" stroke-width="0.9" fill="none"/>
<circle cx="385.40" cy="314.60" r="2.43" fill="none" stroke="#1a1a1a" stroke-width="1.00"/>
<circle cx="430.80" cy="386.20" r="2.43" fill="none" stroke="#1a1a1a" stroke-width="1.00"/>
<circle cx="476.00" cy="418.00" r="2.43" fill="none" stroke="#1a1a1a" stroke-width="1.00"/>
<circle cx="521.80" cy="421.00" r="2.43" fill="none" stroke="#1a1a1a" stroke-width="1.00"/>
<path d="M385.40 375.56 L388.10 380.69 L382.70 380.69 Z" fill="none" stroke="#1a1a1a" stroke-width="1.00"/>
<path d="M430.80 405.06 L433.50 410.19 L428.10 410.19 Z" fill="none" stroke="#1a1a1a" stroke-width="1.00"/>
<path d="M476.00 415.17 L478.70 420.30 L473.30 420.30 Z" fill="none" stroke="#1a1a1a" stroke-width="1.00"/>
<path d="M521.80 418.17 L524.50 423.30 L519.10 423.30 Z" fill="none" stroke="#1a1a1a" stroke-width="1.00"/>
<path d="M385.40 415.59 L388.32 421.26 L382.48 421.26 Z" fill="#000"/>
<path d="M430.80 415.19 L433.72 420.87 L427.88 420.87 Z" fill="#000"/>
<path d="M476.00 414.89 L478.92 420.56 L473.08 420.56 Z" fill="#000"/>
<path d="M521.80 414.09 L524.72 419.76 L518.88 419.76 Z" fill="#000"/>
<circle cx="385.40" cy="291.50" r="2.97" fill="#000"/>
<circle cx="430.80" cy="305.00" r="2.97" fill="#000"/>
<circle cx="476.00" cy="374.70" r="2.97" fill="#000"/>
<circle cx="521.80" cy="410.90" r="2.97" fill="#000"/>
<line x1="460.80" y1="273.50" x2="479.30" y2="273.50" stroke="#1e1e1e" stroke-width="1.1"/>
<circle cx="470.00" cy="273.50" r="2.70" fill="none" stroke="#1a1a1a" stroke-width="1.00"/>
<text x="481.24" y="276.90" font-size="9.20" textLength="46.66" lengthAdjust="spacingAndGlyphs" fill="#2a2a2a" stroke="#2a2a2a" stroke-width="0.30">Binimetinib</text>
<line x1="460.80" y1="290.40" x2="479.30" y2="290.40" stroke="#1e1e1e" stroke-width="1.1"/>
<path d="M470.00 287.25 L473.00 292.95 L467.00 292.95 Z" fill="none" stroke="#1a1a1a" stroke-width="1.00"/>
<text x="481.26" y="293.80" font-size="9.20" textLength="45.13" lengthAdjust="spacingAndGlyphs" fill="#2a2a2a" stroke="#2a2a2a" stroke-width="0.30">Dabrafenib</text>
<line x1="460.80" y1="307.60" x2="479.30" y2="307.60" stroke="#1e1e1e" stroke-width="1.1"/>
<path d="M470.00 304.15 L473.24 310.45 L466.76 310.45 Z" fill="#000"/>
<text x="481.81" y="311.00" font-size="9.20" textLength="43.47" lengthAdjust="spacingAndGlyphs" fill="#2a2a2a" stroke="#2a2a2a" stroke-width="0.30">Trametinib</text>
<line x1="460.80" y1="325.00" x2="479.30" y2="325.00" stroke="#1e1e1e" stroke-width="1.1"/>
<circle cx="470.00" cy="325.00" r="3.30" fill="#000"/>
<text x="481.95" y="328.40" font-size="9.20" textLength="50.91" lengthAdjust="spacingAndGlyphs" fill="#2a2a2a" stroke="#2a2a2a" stroke-width="0.30">Vemurafenib</text>
</svg></body></html>
